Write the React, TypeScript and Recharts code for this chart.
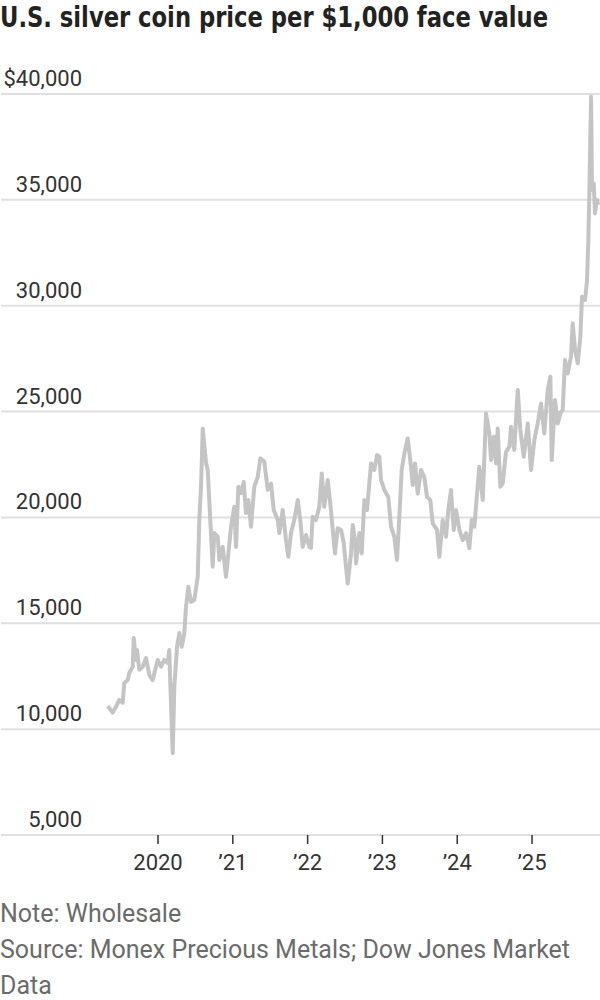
import React from 'react';
import { LineChart, Line, XAxis, YAxis, CartesianGrid } from 'recharts';

// decimal years
const dates = [
  2019.328, 2019.394, 2019.439, 2019.483, 2019.528, 2019.549, 2019.595, 2019.616, 2019.662, 2019.675,
  2019.706, 2019.719, 2019.75, 2019.795, 2019.84, 2019.884, 2019.929, 2019.951, 2019.996, 2020.04,
  2020.084, 2020.13, 2020.151, 2020.164, 2020.197, 2020.218, 2020.254, 2020.285, 2020.317, 2020.352,
  2020.374, 2020.405, 2020.441, 2020.485, 2020.531, 2020.552, 2020.575, 2020.598, 2020.642, 2020.664,
  2020.686, 2020.731, 2020.753, 2020.798, 2020.82, 2020.865, 2020.909, 2020.932, 2020.976, 2021.02,
  2021.043, 2021.074, 2021.11, 2021.146, 2021.176, 2021.207, 2021.243, 2021.287, 2021.333, 2021.368,
  2021.421, 2021.467, 2021.511, 2021.547, 2021.6, 2021.622, 2021.667, 2021.711, 2021.742, 2021.778,
  2021.822, 2021.868, 2021.902, 2021.934, 2021.979, 2022.023, 2022.045, 2022.068, 2022.112, 2022.156,
  2022.189, 2022.223, 2022.269, 2022.303, 2022.336, 2022.366, 2022.402, 2022.447, 2022.483, 2022.513,
  2022.536, 2022.58, 2022.603, 2022.634, 2022.647, 2022.691, 2022.723, 2022.758, 2022.794, 2022.848,
  2022.892, 2022.928, 2022.959, 2022.981, 2023.025, 2023.079, 2023.115, 2023.159, 2023.195, 2023.226,
  2023.258, 2023.293, 2023.338, 2023.382, 2023.405, 2023.436, 2023.472, 2023.516, 2023.56, 2023.596,
  2023.64, 2023.672, 2023.73, 2023.761, 2023.806, 2023.85, 2023.881, 2023.917, 2023.953, 2023.984,
  2024.028, 2024.074, 2024.118, 2024.162, 2024.194, 2024.229, 2024.265, 2024.295, 2024.341, 2024.385,
  2024.429, 2024.452, 2024.488, 2024.519, 2024.541, 2024.576, 2024.608, 2024.652, 2024.697, 2024.719,
  2024.763, 2024.809, 2024.844, 2024.889, 2024.943, 2024.987, 2025.031, 2025.076, 2025.12, 2025.164,
  2025.21, 2025.245, 2025.263, 2025.307, 2025.344, 2025.378, 2025.41, 2025.441, 2025.477, 2025.521,
  2025.544, 2025.575, 2025.611, 2025.646, 2025.668, 2025.709, 2025.735, 2025.753, 2025.766, 2025.789,
  2025.802, 2025.825, 2025.842, 2025.869, 2025.882,
];

// price per $1,000 face value, dollars
const prices = [
  11100, 10780, 11060, 11380, 11250, 12180, 12320, 12650, 12950, 14300,
  13270, 13740, 12800, 12950, 13360, 12560, 12320, 12650, 13270, 12950,
  13270, 13120, 13740, 12180, 8870, 12000, 13890, 14540, 13890, 14540,
  15780, 16720, 16010, 16100, 17200, 19880, 21450, 24200, 22570, 22240,
  20750, 17670, 19260, 19090, 17990, 18610, 17200, 17990, 19560, 20500,
  18610, 21450, 21150, 21680, 20210, 20820, 19560, 21450, 21910, 22790,
  22630, 21300, 21600, 20350, 19880, 19260, 20350, 18930, 18140, 19260,
  19880, 20820, 19880, 18610, 19170, 18610, 18560, 20030, 19880, 20500,
  22080, 20500, 21770, 20660, 19410, 18300, 19490, 19410, 18780, 17670,
  16880, 18300, 19640, 18930, 17830, 19260, 18300, 20820, 20350, 22550,
  22240, 22950, 22860, 21770, 21300, 20970, 19560, 19090, 17990, 20030,
  22240, 23020, 23730, 22390, 21530, 22550, 21130, 22240, 21910, 20970,
  20820, 19720, 19410, 18140, 19880, 19090, 20350, 21300, 19410, 20350,
  19410, 18930, 19260, 18550, 19880, 19560, 21130, 22390, 20820, 24910,
  23970, 22710, 23810, 22550, 24200, 21450, 21600, 23100, 23340, 24280,
  23190, 26020, 24130, 22870, 24440, 22240, 23660, 24440, 25380, 23970,
  26020, 26650, 22710, 25550, 24440, 24910, 25080, 27440, 26800, 27590,
  29170, 27910, 27280, 28530, 30420, 30270, 31200, 33100, 35300, 39870,
  35470, 35780, 34360, 35000, 34760,
];

const yTicks = [5000, 10000, 15000, 20000, 25000, 30000, 35000, 40000];
const xTicks = [2020, 2021, 2022, 2023, 2024, 2025];
const xTickLabels = ['2020', '\u201921', '\u201922', '\u201923', '\u201924', '\u201925'];

const data = dates.map((d, i) => ({ date: d, price: prices[i] }));

const FONT = "Roboto, 'Noto Sans', sans-serif";

const YTick = ({ y, payload }: any) => (
  <text x={82} y={y - 8} textAnchor="end" fill="#333" fontSize={22} fontFamily={FONT}>
    {payload.value === 40000 ? '$40,000' : payload.value.toLocaleString('en-US')}
  </text>
);

const XTick = ({ x, y, payload }: any) => {
  const idx = xTicks.indexOf(payload.value);
  return (
    <text x={x} y={y} dy={24} textAnchor="middle" fill="#333" fontSize={22} fontFamily={FONT}>
      {xTickLabels[idx]}
    </text>
  );
};

export default function App() {
  return (
    <div style={{ position: 'relative', width: 600, height: 1000, background: '#fff', overflow: 'hidden' }}>
      <style>{'body { margin: 0; }'}</style>
      <div
        style={{
          position: 'absolute',
          top: 1,
          left: 0,
          fontFamily: "'DejaVu Sans Condensed', Roboto, sans-serif",
          fontWeight: 700,
          fontSize: 28,
          color: '#222',
          whiteSpace: 'nowrap',
          transform: 'scaleX(0.9)',
          transformOrigin: 'left top',
        }}
      >
        U.S. silver coin price per $1,000 face value
      </div>
      <div style={{ position: 'absolute', top: 0, left: 0 }}>
        <LineChart width={601} height={900} data={data} margin={{ top: 94, right: 0, bottom: 25, left: 0 }}>
          <CartesianGrid vertical={false} stroke="#e0e0e0" strokeWidth={2} />
          <XAxis
            dataKey="date"
            type="number"
            domain={[2017.901, 2025.922]}
            ticks={xTicks}
            tick={<XTick />}
            tickSize={9}
            tickLine={{ stroke: '#333', strokeWidth: 1.5 }}
            axisLine={false}
            height={40}
            allowDataOverflow
          />
          <YAxis
            type="number"
            domain={[5000, 40000]}
            ticks={yTicks}
            tick={<YTick />}
            axisLine={false}
            tickLine={false}
            width={1}
            allowDataOverflow
          />
          <Line
            type="linear"
            dataKey="price"
            stroke="#c4c4c4"
            strokeWidth={4}
            strokeLinejoin="round"
            dot={false}
            isAnimationActive={false}
          />
        </LineChart>
      </div>
      <div
        style={{
          position: 'absolute',
          top: 896,
          left: 0,
          fontFamily: FONT,
          fontSize: 25,
          lineHeight: '36px',
          color: '#6b6b6b',
          whiteSpace: 'nowrap',
        }}
      >
        <div>Note: Wholesale</div>
        <div>Source: Monex Precious Metals; Dow Jones Market</div>
        <div>Data</div>
      </div>
    </div>
  );
}
